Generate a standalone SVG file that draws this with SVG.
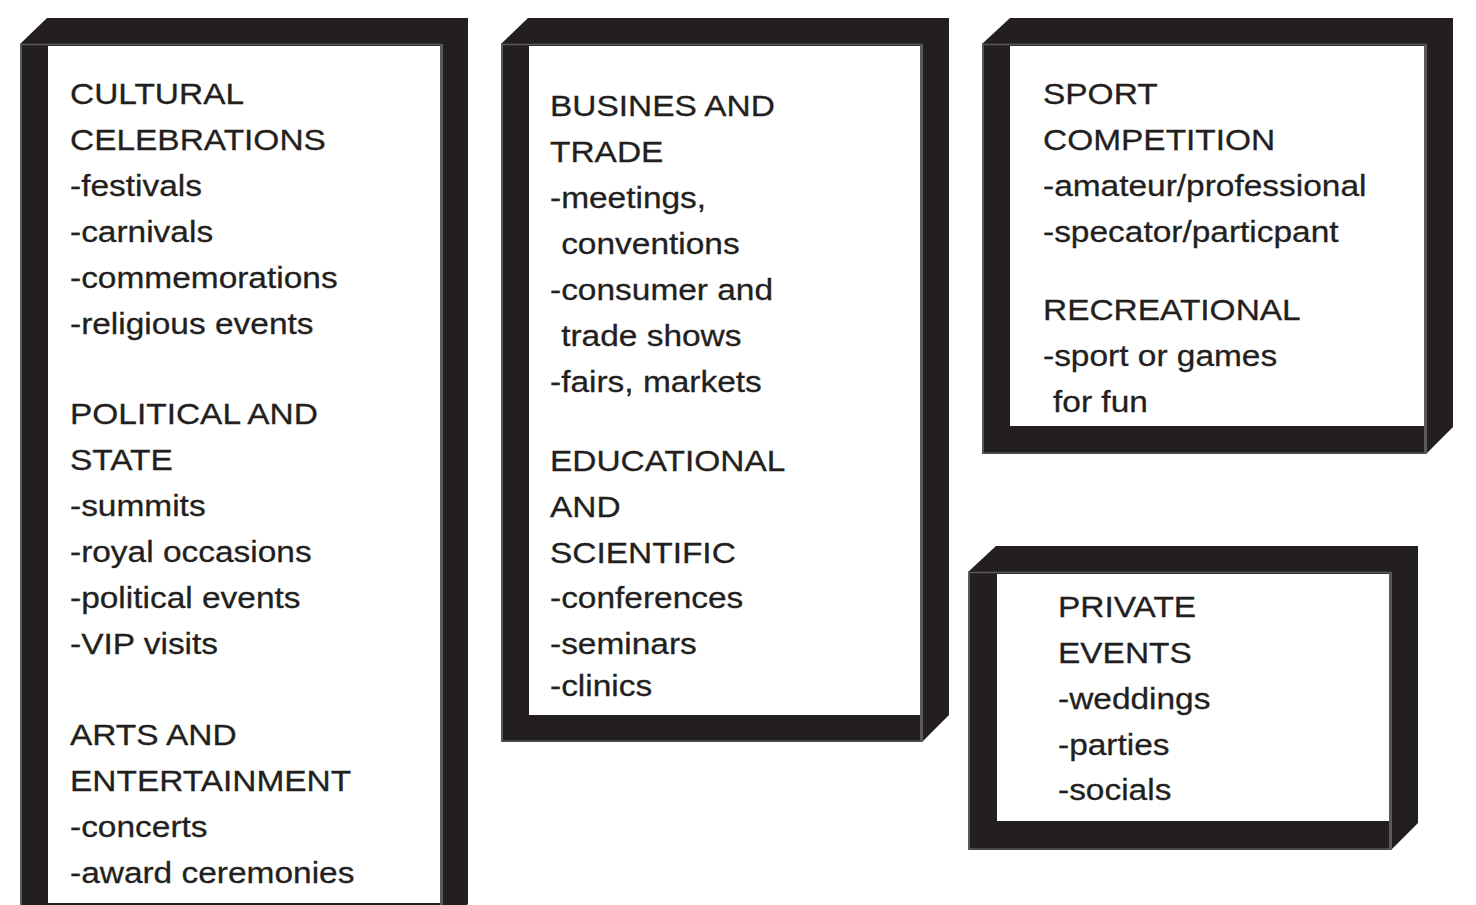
<svg xmlns="http://www.w3.org/2000/svg" width="1476" height="905" viewBox="0 0 1476 905">
<style>
.frame{fill:#231f20}
.inner{fill:#ffffff}
.edge{stroke:#59585a;fill:none}
.t{font-family:"Liberation Sans",Arial,Helvetica,sans-serif;font-size:30px;fill:#231f20;stroke:#231f20;stroke-width:0.3px}
</style>
<rect width="1476" height="905" fill="#ffffff"/>
<g id="box-cultural">
<polygon class="frame" points="20,44 47,18 468,18 468,904 441,931 20,931"/>
<rect class="inner" x="48" y="46" width="392" height="857"/>
<line class="edge" x1="20" y1="44.5" x2="441" y2="44.5" stroke-width="1.5"/>
<line class="edge" x1="441.5" y1="44" x2="441.5" y2="931" stroke-width="3"/>
<line class="edge" x1="21" y1="44" x2="21" y2="931" stroke-width="2"/>
<text class="t" transform="translate(70,104) scale(1.115,1)"><tspan x="0" dy="0">CULTURAL</tspan><tspan x="0" dy="46">CELEBRATIONS</tspan><tspan x="0" dy="46">-festivals</tspan><tspan x="0" dy="46">-carnivals</tspan><tspan x="0" dy="46">-commemorations</tspan><tspan x="0" dy="46">-religious events</tspan><tspan x="0" dy="90">POLITICAL AND</tspan><tspan x="0" dy="46">STATE</tspan><tspan x="0" dy="46">-summits</tspan><tspan x="0" dy="46">-royal occasions</tspan><tspan x="0" dy="46">-political events</tspan><tspan x="0" dy="46">-VIP visits</tspan><tspan x="0" dy="91">ARTS AND</tspan><tspan x="0" dy="46">ENTERTAINMENT</tspan><tspan x="0" dy="46">-concerts</tspan><tspan x="0" dy="46">-award ceremonies</tspan></text>
</g>
<g id="box-business">
<polygon class="frame" points="501,44 528,18 949,18 949,715 922,742 501,742"/>
<rect class="inner" x="529" y="46" width="391" height="669"/>
<line class="edge" x1="501" y1="44.5" x2="922" y2="44.5" stroke-width="1.5"/>
<line class="edge" x1="921.5" y1="44" x2="921.5" y2="742" stroke-width="3"/>
<line class="edge" x1="502" y1="44" x2="502" y2="742" stroke-width="2"/>
<line class="edge" x1="501" y1="741" x2="922" y2="741" stroke-width="1.5"/>
<text class="t" transform="translate(550,116) scale(1.115,1)"><tspan x="0" dy="0">BUSINES AND</tspan><tspan x="0" dy="46">TRADE</tspan><tspan x="0" dy="46">-meetings,</tspan><tspan x="10" dy="46">conventions</tspan><tspan x="0" dy="46">-consumer and</tspan><tspan x="10" dy="46">trade shows</tspan><tspan x="0" dy="46">-fairs, markets</tspan><tspan x="0" dy="79">EDUCATIONAL</tspan><tspan x="0" dy="46">AND</tspan><tspan x="0" dy="46">SCIENTIFIC</tspan><tspan x="0" dy="45">-conferences</tspan><tspan x="0" dy="46">-seminars</tspan><tspan x="0" dy="42">-clinics</tspan></text>
</g>
<g id="box-sport">
<polygon class="frame" points="982,44 1010,18 1453,18 1453,427 1426,454 982,454"/>
<rect class="inner" x="1010" y="46" width="414" height="380"/>
<line class="edge" x1="982" y1="44.5" x2="1426" y2="44.5" stroke-width="1.5"/>
<line class="edge" x1="1425.5" y1="44" x2="1425.5" y2="454" stroke-width="3"/>
<line class="edge" x1="983" y1="44" x2="983" y2="454" stroke-width="2"/>
<line class="edge" x1="982" y1="453" x2="1426" y2="453" stroke-width="1.5"/>
<text class="t" transform="translate(1043,104) scale(1.115,1)"><tspan x="0" dy="0">SPORT</tspan><tspan x="0" dy="46">COMPETITION</tspan><tspan x="0" dy="46">-amateur/professional</tspan><tspan x="0" dy="46">-specator/particpant</tspan><tspan x="0" dy="78">RECREATIONAL</tspan><tspan x="0" dy="46">-sport or games</tspan><tspan x="9" dy="46">for fun</tspan></text>
</g>
<g id="box-private">
<polygon class="frame" points="968,572 996,546 1418,546 1418,823 1391,850 968,850"/>
<rect class="inner" x="997" y="574" width="392" height="247"/>
<line class="edge" x1="968" y1="572.5" x2="1391" y2="572.5" stroke-width="1.5"/>
<line class="edge" x1="1390.5" y1="572" x2="1390.5" y2="850" stroke-width="3"/>
<line class="edge" x1="969" y1="572" x2="969" y2="850" stroke-width="2"/>
<line class="edge" x1="968" y1="849" x2="1391" y2="849" stroke-width="1.5"/>
<text class="t" transform="translate(1058,617) scale(1.115,1)"><tspan x="0" dy="0">PRIVATE</tspan><tspan x="0" dy="46">EVENTS</tspan><tspan x="0" dy="46">-weddings</tspan><tspan x="0" dy="46">-parties</tspan><tspan x="0" dy="45">-socials</tspan></text>
</g>
<g id="connectors"></g>
</svg>
